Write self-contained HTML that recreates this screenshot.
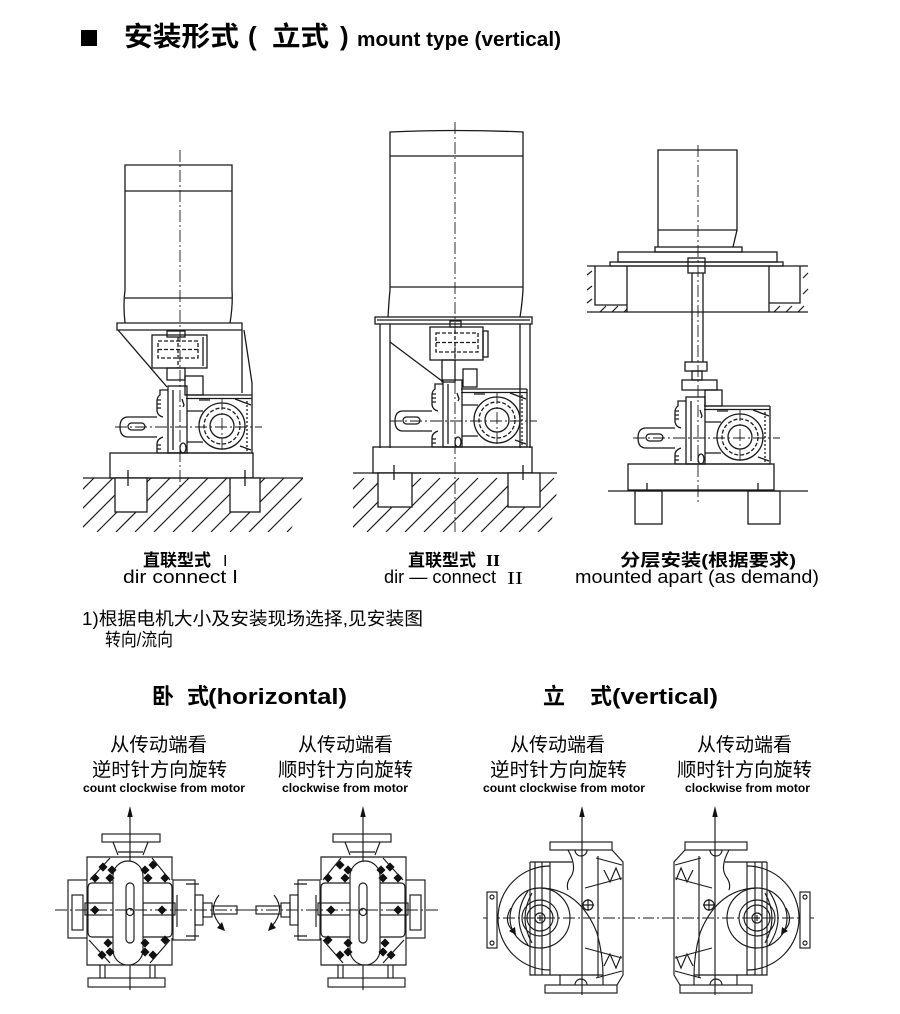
<!DOCTYPE html>
<html>
<head>
<meta charset="utf-8">
<style>
  html,body{margin:0;padding:0;background:#fff;}
  body{width:900px;height:1014px;overflow:hidden;}
  svg{display:block;}
  .t{font-family:"Liberation Sans","Noto Sans CJK SC",sans-serif;fill:#000;}
  .l{fill:none;stroke:#1a1a1a;stroke-width:1.3;}
  .s{fill:none;stroke:#1a1a1a;stroke-width:1.15;}
  .cl{fill:none;stroke:#1a1a1a;stroke-width:0.9;stroke-dasharray:12 3 2 3;}
  .dd{stroke-dasharray:4 2;}
  .wf{fill:#fff;}
</style>
</head>
<body>
<svg width="900" height="1014" viewBox="0 0 900 1014" xmlns="http://www.w3.org/2000/svg">
<defs>
  <clipPath id="hc1"><polygon points="83,478 303,478 301,505 290,532 83,532"/></clipPath>
  <clipPath id="hc2"><polygon points="353,473 557,473 556,505 548,532 353,532"/></clipPath>

  <g id="pump">
    <path class="l" d="M186,395 H252 M186,398.5 H252"/>
    <path class="l" d="M252,395 V453 H157"/>
    <path class="l" d="M247,401 V451" stroke-dasharray="2 2"/>
    <path class="l" d="M168,390 H160 V395 Q157,397 157,401 V411 Q158,416 163,417 M163,437 Q157,439 157,444 V453"/>
    <path class="l" d="M157,400 h4 M157,404 h4 M157,408 h4 M157,445 h4 M157,449 h4"/>
    <rect class="l" x="168" y="386" width="19" height="67"/>
    <line class="l" x1="173" y1="390" x2="173" y2="450"/>
    <ellipse class="l" cx="183" cy="448" rx="3" ry="5"/>
    <path class="l" d="M182,399 l2,6 l-1,2"/>
    <path class="l" d="M157,417 H128 Q120,417 120,427 Q120,437 128,437 H157"/>
    <rect class="l" x="128" y="423" width="17" height="7" rx="3.5"/>
    <path class="l" d="M187,411 H203 M187,442 H203"/>
    <circle class="l" cx="222" cy="426" r="23"/>
    <circle class="l dd" cx="222" cy="426" r="18"/>
    <circle class="l" cx="222" cy="426" r="12"/>
    <path class="l" d="M199,400 H210 M235,399 L251,405 M240,446 L251,450"/>
    <path class="cl" d="M222,398 V453"/>
    <path class="cl" d="M115,427 H262"/>
  </g>

  <g id="h1">
    <line class="s" x1="130" y1="814" x2="130" y2="990"/>
    <polygon points="130,806 127.3,817 132.7,817" fill="#111"/>
    <rect class="s" x="102" y="834" width="58" height="8"/>
    <path class="s" d="M113,842 L118,855 M148,842 L143,855 M118,852 H143"/>
    <path class="s" d="M87,880 V857 H172 V880 M87,938 V965 H172 V938"/>
    <path class="s" d="M90,880 L110,858 M152,858 L170,880 M89,940 L110,963 M150,963 L170,940"/>
    <path class="s" d="M92,883 H113 M143,883 H168 M92,937 H113 M143,937 H168"/>
    <path class="s" d="M92,883 Q88,883 88,888 V932 Q88,937 92,937 M168,883 Q172,883 172,888 V932 Q172,937 168,937"/>
    <rect class="s" x="85" y="903" width="28" height="12"/>
    <rect class="s" x="143" y="903" width="32" height="12"/>
    <rect class="s wf" x="113" y="861" width="30" height="104" rx="15"/>
    <rect class="s" x="126" y="883" width="8" height="60" rx="4"/>
    <circle class="s wf" cx="130" cy="912" r="3.5"/>
    <rect class="s" x="68" y="880" width="19" height="58"/>
    <rect class="s" x="72" y="895" width="11" height="35"/>
    <rect class="s" x="173" y="880" width="22" height="60"/>
    <line class="s" x1="177" y1="895" x2="177" y2="927"/>
    <path class="s" d="M186,884 H199 M186,936 H199"/>
    <rect class="s" x="195" y="895" width="8" height="30"/>
    <rect class="s" x="203" y="903" width="9" height="14"/>
    <rect class="s" x="212" y="906" width="25" height="8"/>
    <path class="s" d="M219,895 Q207,910 221,926"/>
    <polygon points="225,931 217,928 222,922" fill="#111"/>
    <path class="s" d="M100,965 V978 M105,965 V978 M150,965 V978 M155,965 V978"/>
    <rect class="s" x="88" y="978" width="77" height="9"/>
    <path class="cl" d="M55,910 H252"/>
    <g fill="#111" stroke="#111" stroke-width="0.8">
      <path d="M103,863 l4,4 l-4,4 l-4,-4z M112,866 l4,4 l-4,4 l-4,-4z M95,874 l4,4 l-4,4 l-4,-4z M110,874 l4,4 l-4,4 l-4,-4z"/>
      <path d="M153,861 l4,4 l-4,4 l-4,-4z M145,866 l4,4 l-4,4 l-4,-4z M148,874 l4,4 l-4,4 l-4,-4z M165,874 l4,4 l-4,4 l-4,-4z"/>
      <path d="M95,906 l4,4 l-4,4 l-4,-4z M162,906 l4,4 l-4,4 l-4,-4z"/>
      <path d="M108,939 l4,4 l-4,4 l-4,-4z M110,948 l4,4 l-4,4 l-4,-4z M102,951 l4,4 l-4,4 l-4,-4z"/>
      <path d="M165,936 l4,4 l-4,4 l-4,-4z M145,939 l4,4 l-4,4 l-4,-4z M153,951 l4,4 l-4,4 l-4,-4z M145,948 l4,4 l-4,4 l-4,-4z"/>
    </g>
  </g>

  <g id="v1">
    <line class="s" x1="582" y1="814" x2="582" y2="995"/>
    <polygon points="582,806 579.3,817 584.7,817" fill="#111"/>
    <path class="cl" d="M483,918 H650"/>
    <rect class="s" x="550" y="842" width="62" height="8"/>
    <rect class="s" x="545" y="985" width="72" height="8"/>
    <path class="s" d="M550,866 A52,52 0 1 0 550,970"/>
    <path class="s" d="M530,862 H572 M530,862 V975 H603 M535,862 V975 M542,862 V975 M550,862 V975"/>
    <path class="s" d="M560,975 V985 M603,975 V985"/>
    <rect class="s wf" x="487" y="892" width="10" height="56"/>
    <circle class="s" cx="492" cy="897" r="2"/>
    <circle class="s" cx="492" cy="943" r="2"/>
    <circle class="s" cx="540" cy="918" r="30"/>
    <circle class="s" cx="540" cy="918" r="18"/>
    <circle class="s" cx="540" cy="918" r="13"/>
    <circle class="s" cx="540" cy="918" r="5"/>
    <path class="s" d="M537,918 h6 M540,915 v6"/>
    <path class="s" d="M528,891 Q510,918 528,945 M532,893 Q518,918 532,943"/>
    <path class="s" d="M542,888 Q580,890 597,933 Q603,955 603,975"/>
    <path class="s" d="M568,850 Q578,868 570,878 Q566,884 568,890"/>
    <path class="s" d="M612,850 L623,862 V975 L617,985"/>
    <path class="s" d="M598,856 V978"/>
    <path class="s" d="M596,858 L622,865 M585,888 L622,878 M604,870 L610,882 L616,868 L621,880"/>
    <path class="s" d="M585,948 L622,958 M596,978 L622,971 M604,966 L610,954 L616,968 L621,956"/>
    <circle class="s" cx="588" cy="905" r="5"/>
    <path class="s" d="M582,905 h12 M588,899 v12"/>
    <path class="s" d="M575,850 A6,6 0 0 0 587,850"/>
    <path class="s" d="M575,985 A6,6 0 0 1 587,985"/>
    <path class="s" d="M511,908 Q503,921 513,931"/>
    <polygon points="516,935 509,931 515,927" fill="#111"/>
  </g>
</defs>

<!-- ===== Title ===== -->
<rect x="81" y="30" width="16" height="16" fill="#000"/>
<text class="t" x="124" y="46" font-size="27" font-weight="bold" textLength="115" lengthAdjust="spacingAndGlyphs">安装形式</text>
<text class="t" x="248" y="45" font-size="26" font-weight="bold">(</text>
<text class="t" x="272" y="46" font-size="27" font-weight="bold" textLength="57" lengthAdjust="spacingAndGlyphs">立式</text>
<text class="t" x="340" y="45" font-size="26" font-weight="bold">)</text>
<text class="t" x="357" y="46" font-size="20" font-weight="bold" textLength="204" lengthAdjust="spacingAndGlyphs">mount  type (vertical)</text>

<!-- ===== Drawing 1 ===== -->
<g>
  <path class="cl" d="M180,150 V490"/>
  <path class="l" d="M125,323 Q123,305 125,290 V165 H232 V290 Q233,305 230,323"/>
  <path class="l" d="M125,191 H232 M125,298 H232"/>
  <path class="l" d="M117,323 H242 V330 H117 Z"/>
  <path class="l" d="M118,330 L167,387"/>
  <path class="l" d="M242,330 V393 M244,330 L252,383 V395"/>
  <rect class="l" x="152" y="335" width="55" height="33"/>
  <rect class="l" x="167" y="331" width="18" height="6"/>
  <rect class="l dd" x="158" y="341" width="40" height="17"/>
  <path class="l dd" d="M158,349.5 H198 M178,337 V368"/>
  <line class="l" x1="203" y1="337" x2="203" y2="366"/>
  <rect class="l" x="167" y="368" width="18" height="12"/>
  <rect class="l" x="185" y="376" width="18" height="19"/>
  <use href="#pump"/>
  <rect class="l" x="110" y="453" width="143" height="25"/>
  <g clip-path="url(#hc1)" class="s">
    <path d="M40,532 L94,478 M59,532 L113,478 M78,532 L132,478 M97,532 L151,478 M116,532 L170,478 M135,532 L189,478 M154,532 L208,478 M173,532 L227,478 M192,532 L246,478 M211,532 L265,478 M230,532 L284,478 M249,532 L303,478 M268,532 L322,478 M287,532 L341,478"/>
  </g>
  <line class="l" x1="83" y1="478" x2="303" y2="478"/>
  <rect class="l wf" x="115" y="478" width="32" height="34"/>
  <rect class="l wf" x="230" y="478" width="30" height="34"/>
  <path class="l" d="M128,470 V486 M245,470 V486"/>
</g>

<!-- ===== Drawing 2 ===== -->
<g>
  <path class="cl" d="M455,122 V532"/>
  <path class="l" d="M388,317 Q389,300 390,290 V132 Q455,129 523,132 V290 Q522,305 520,317"/>
  <path class="l" d="M390,156 H523 M390,287 H523"/>
  <rect class="l" x="375" y="317" width="157" height="7"/>
  <line class="l" x1="377" y1="320" x2="530" y2="320"/>
  <path class="l" d="M380,324 V448 M390,324 V448 M520,324 V448 M530,324 V448"/>
  <path class="l" d="M390,342 L442,381"/>
  <rect class="l" x="430" y="327" width="53" height="33"/>
  <rect class="l" x="483" y="331" width="5" height="26"/>
  <rect class="l" x="450" y="321" width="11" height="6"/>
  <rect class="l dd" x="436" y="333" width="42" height="19"/>
  <path class="l dd" d="M436,342.5 H478 M455,330 V360"/>
  <rect class="l" x="442" y="360" width="13" height="22"/>
  <rect class="l" x="463" y="369" width="14" height="18"/>
  <use href="#pump" transform="translate(275,-6)"/>
  <rect class="l" x="373" y="447" width="159" height="26"/>
  <g clip-path="url(#hc2)" class="s">
    <path d="M310,532 L364,478 M329,532 L383,478 M348,532 L402,478 M367,532 L421,478 M386,532 L440,478 M405,532 L459,478 M424,532 L478,478 M443,532 L497,478 M462,532 L516,478 M481,532 L535,478 M500,532 L554,478 M519,532 L573,478 M538,532 L592,478 M557,532 L611,478"/>
  </g>
  <line class="l" x1="353" y1="473" x2="557" y2="473"/>
  <rect class="l wf" x="378" y="473" width="34" height="34"/>
  <rect class="l wf" x="508" y="473" width="32" height="34"/>
  <path class="l" d="M394,465 V480 M523,465 V480"/>
</g>

<!-- ===== Drawing 3 ===== -->
<g>
  <path class="cl" d="M698,145 V505"/>
  <path class="l" d="M658,247 V150 H737 V230 L733,247"/>
  <path class="l" d="M658,230 H737"/>
  <rect class="l" x="655" y="247" width="87" height="5"/>
  <rect class="l" x="618" y="252" width="159" height="10"/>
  <rect class="l" x="610" y="262" width="173" height="4"/>
  <path class="l" d="M587,266 H808 M587,312 H808 M627,266 V312 M769,266 V312"/>
  <path class="l" d="M595,266 V305 H627 M800,266 V303 H769"/>
  <path class="s" d="M587,275 l5,-4 M587,290 l5,-4 M587,303 l5,-4 M600,312 l6,-6 M612,312 l6,-6 M624,312 l3,-3"/>
  <path class="s" d="M803,278 l5,-5 M803,294 l5,-5 M774,312 l6,-6 M786,312 l6,-6 M798,312 l6,-6"/>
  <rect class="l" x="688" y="258" width="17" height="15"/>
  <path class="l" d="M692,273 V362 M703,273 V362"/>
  <rect class="l" x="685" y="362" width="22" height="9"/>
  <rect class="l" x="692" y="371" width="10" height="9"/>
  <rect class="l" x="682" y="380" width="35" height="10"/>
  <rect class="l" x="705" y="390" width="17" height="16"/>
  <use href="#pump" transform="translate(518,11)"/>
  <rect class="l" x="628" y="464" width="146" height="26"/>
  <line class="l" x1="608" y1="491" x2="808" y2="491"/>
  <rect class="l" x="635" y="491" width="27" height="33"/>
  <rect class="l" x="748" y="491" width="32" height="33"/>
  <path class="l" d="M647,483 V491 M758,483 V491"/>
</g>

<!-- ===== Labels row ===== -->
<text class="t" x="143" y="566" font-size="17" font-weight="bold" textLength="68" lengthAdjust="spacingAndGlyphs">直联型式</text>
<text class="t" x="223" y="566" font-size="16">I</text>
<text class="t" x="123" y="583" font-size="18" textLength="115" lengthAdjust="spacingAndGlyphs">dir  connect I</text>

<text class="t" x="408" y="566" font-size="17" font-weight="bold" textLength="68" lengthAdjust="spacingAndGlyphs">直联型式</text>
<text class="t" x="486" y="566" font-size="17" font-weight="bold" textLength="14" lengthAdjust="spacingAndGlyphs" style="font-family:'Liberation Serif',serif">II</text>
<text class="t" x="384" y="583" font-size="18" textLength="112" lengthAdjust="spacingAndGlyphs">dir — connect</text>
<text class="t" x="507" y="584" font-size="18" textLength="16" lengthAdjust="spacingAndGlyphs" style="font-family:'Liberation Serif',serif">II</text>

<text class="t" x="620" y="566" font-size="17" font-weight="bold" textLength="176" lengthAdjust="spacingAndGlyphs">分层安装(根据要求)</text>
<text class="t" x="575" y="583" font-size="18" textLength="244" lengthAdjust="spacingAndGlyphs">mounted apart (as demand)</text>

<text class="t" x="82" y="625" font-size="18" textLength="341" lengthAdjust="spacingAndGlyphs">1)根据电机大小及安装现场选择,见安装图</text>
<text class="t" x="105" y="646" font-size="18" textLength="68" lengthAdjust="spacingAndGlyphs">转向/流向</text>

<!-- ===== Bottom section titles ===== -->
<text class="t" x="152" y="704" font-size="22" font-weight="bold">卧</text>
<text class="t" x="187" y="704" font-size="22" font-weight="bold">式</text>
<text class="t" x="208" y="704" font-size="22" font-weight="bold" textLength="139" lengthAdjust="spacingAndGlyphs">(horizontal)</text>

<text class="t" x="543" y="704" font-size="22" font-weight="bold">立</text>
<text class="t" x="590" y="704" font-size="22" font-weight="bold">式</text>
<text class="t" x="612" y="704" font-size="22" font-weight="bold" textLength="106" lengthAdjust="spacingAndGlyphs">(vertical)</text>

<text class="t" x="110" y="751" font-size="19" textLength="97" lengthAdjust="spacingAndGlyphs">从传动端看</text>
<text class="t" x="92" y="776" font-size="19" textLength="135" lengthAdjust="spacingAndGlyphs">逆时针方向旋转</text>
<text class="t" x="83" y="792" font-size="12" font-weight="bold" textLength="162" lengthAdjust="spacingAndGlyphs">count clockwise from motor</text>

<text class="t" x="298" y="751" font-size="19" textLength="95" lengthAdjust="spacingAndGlyphs">从传动端看</text>
<text class="t" x="278" y="776" font-size="19" textLength="135" lengthAdjust="spacingAndGlyphs">顺时针方向旋转</text>
<text class="t" x="282" y="792" font-size="12" font-weight="bold" textLength="126" lengthAdjust="spacingAndGlyphs">clockwise from motor</text>

<text class="t" x="510" y="751" font-size="19" textLength="95" lengthAdjust="spacingAndGlyphs">从传动端看</text>
<text class="t" x="490" y="776" font-size="19" textLength="137" lengthAdjust="spacingAndGlyphs">逆时针方向旋转</text>
<text class="t" x="483" y="792" font-size="12" font-weight="bold" textLength="162" lengthAdjust="spacingAndGlyphs">count clockwise from motor</text>

<text class="t" x="697" y="751" font-size="19" textLength="95" lengthAdjust="spacingAndGlyphs">从传动端看</text>
<text class="t" x="677" y="776" font-size="19" textLength="135" lengthAdjust="spacingAndGlyphs">顺时针方向旋转</text>
<text class="t" x="685" y="792" font-size="12" font-weight="bold" textLength="125" lengthAdjust="spacingAndGlyphs">clockwise from motor</text>

<!-- ===== Bottom drawings ===== -->
<use href="#h1"/>
<use href="#h1" transform="translate(493,0) scale(-1,1)"/>
<use href="#v1"/>
<use href="#v1" transform="translate(1297,0) scale(-1,1)"/>
</svg>
</body>
</html>
